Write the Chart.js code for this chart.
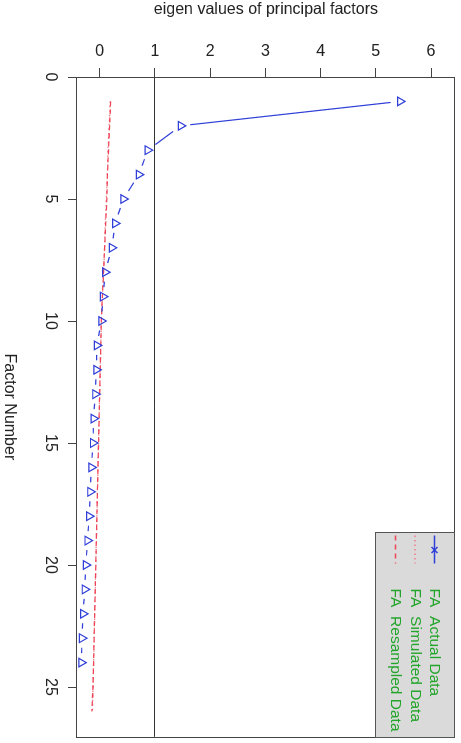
<!DOCTYPE html>
<html>
<head>
<meta charset="utf-8">
<title>Parallel analysis scree plot</title>
<script src="https://cdn.jsdelivr.net/npm/chart.js@4.4.1/dist/chart.umd.min.js"></script>
<style>
  html, body { margin: 0; padding: 0; background: #fff; overflow: hidden; }
  /* the R plot is turned a quarter turn clockwise, so the whole canvas is too */
  #wrap {
    position: absolute; left: 0; top: 0;
    width: 743px; height: 461px;
    transform-origin: 0 0;
    transform: translateX(461px) rotate(90deg);
  }
</style>
</head>
<body>
<div id="wrap"><canvas id="scree" width="743" height="461"></canvas></div>
<script>
const factorNumbers = [1, 2, 3, 4, 5, 6, 7, 8, 9, 10, 11, 12, 13, 14, 15, 16, 17, 18, 19, 20, 21, 22, 23, 24, 25, 26];
const actualEigen = [5.44, 1.47, 0.87, 0.71, 0.43, 0.28, 0.22, 0.10, 0.06, 0.03, -0.05, -0.06,
  -0.08, -0.11, -0.12, -0.15, -0.17, -0.19, -0.22, -0.25, -0.27, -0.30, -0.32, -0.33];
const simulatedEigen = [0.19, 0.17, 0.15, 0.14, 0.12, 0.10, 0.09, 0.07, 0.05, 0.03, 0.02, 0.01, 0.00,
  -0.01, -0.02, -0.03, -0.04, -0.05, -0.06, -0.07, -0.08, -0.09, -0.10, -0.11, -0.12, -0.13];
const resampledEigen = [0.20, 0.18, 0.16, 0.14, 0.13, 0.11, 0.09, 0.07, 0.05, 0.03, 0.02, 0.01, 0.00,
  -0.01, -0.02, -0.03, -0.04, -0.05, -0.06, -0.07, -0.08, -0.09, -0.10, -0.11, -0.12, -0.14];
const eigenTicks = [0, 1, 2, 3, 4, 5, 6];
const factorTicks = [0, 5, 10, 15, 20, 25];
const legendLabels = ["FA  Actual Data", "FA  Simulated Data", "FA  Resampled Data"];
const refEigen = 1;

const blue = "#2f3fd8";
const red = "#ee4658";
const pink = "#f27a88";
const green = "#22a52a";
const ink = "#222";
const pointGap = 9.5; // type = "b": line stops short of each symbol

Chart.defaults.font.family = "'Liberation Sans', Arial, sans-serif";
Chart.defaults.font.size = 16;

const pairs = (xs, ys) => ys.map((y, i) => ({ x: xs[i], y }));
const segLen = (ctx) => Math.hypot(ctx.p1.x - ctx.p0.x, ctx.p1.y - ctx.p0.y);

// box round the plot + the abline(h = 1)
const framePlugin = {
  id: "frame",
  beforeDatasetsDraw(chart) {
    const { ctx, chartArea, scales } = chart;
    const y = Math.round(scales.y.getPixelForValue(refEigen)) + 0.5;
    ctx.save();
    ctx.strokeStyle = "#333";
    ctx.lineWidth = 1;
    ctx.beginPath();
    ctx.moveTo(chartArea.left, y);
    ctx.lineTo(chartArea.right, y);
    ctx.stroke();
    ctx.restore();
  },
  afterDraw(chart) {
    const { ctx, chartArea } = chart;
    ctx.save();
    ctx.strokeStyle = "#444";
    ctx.lineWidth = 1;
    ctx.strokeRect(Math.round(chartArea.left) + 0.5, Math.round(chartArea.top) + 0.5,
      Math.round(chartArea.right - chartArea.left), Math.round(chartArea.bottom - chartArea.top));
    ctx.restore();
  }
};

// R style legend in the top right corner of the plot
const legendPlugin = {
  id: "rlegend",
  afterDraw(chart) {
    const { ctx, chartArea } = chart;
    const w = 205, h = 79;
    const x0 = Math.round(chartArea.right - w) + 0.5;
    const y0 = Math.round(chartArea.top) + 0.5;
    const rows = [20, 39.5, 59];
    const styles = [
      { color: blue, dash: [], marker: true },
      { color: pink, dash: [1.5, 3], marker: false },
      { color: red, dash: [5, 4], marker: false }
    ];
    ctx.save();
    ctx.fillStyle = "#dadada";
    ctx.fillRect(x0, y0, w, h);
    ctx.strokeStyle = "#555";
    ctx.lineWidth = 1;
    ctx.strokeRect(x0, y0, w, h);
    legendLabels.forEach((label, i) => {
      const y = y0 + rows[i];
      const s = styles[i];
      ctx.strokeStyle = s.color;
      ctx.lineWidth = 1.5;
      ctx.setLineDash(s.dash);
      ctx.beginPath();
      ctx.moveTo(x0 + 3, y);
      ctx.lineTo(x0 + 31, y);
      ctx.stroke();
      ctx.setLineDash([]);
      if (s.marker) {
        const cx = x0 + 17.5;
        ctx.beginPath();
        ctx.moveTo(cx - 3, y - 3); ctx.lineTo(cx + 3, y + 3);
        ctx.moveTo(cx - 3, y + 3); ctx.lineTo(cx + 3, y - 3);
        ctx.stroke();
      }
      ctx.fillStyle = green;
      ctx.font = "15.5px 'Liberation Sans', Arial, sans-serif";
      ctx.textBaseline = "middle";
      ctx.textAlign = "left";
      ctx.fillText(label, x0 + 56, y);
    });
    ctx.restore();
  }
};

new Chart(document.getElementById("scree"), {
  type: "line",
  data: {
    datasets: [
      {
        label: legendLabels[0],
        data: pairs(factorNumbers, actualEigen),
        borderColor: blue,
        borderWidth: 1.2,
        pointStyle: "triangle",
        pointRadius: 5,
        pointBorderWidth: 1.2,
        pointBorderColor: blue,
        pointBackgroundColor: "rgba(0,0,0,0)",
        segment: {
          borderDash: (ctx) => {
            const L = segLen(ctx);
            return L > 2 * pointGap ? [L - 2 * pointGap, 2 * pointGap] : [0, L + 1];
          },
          borderDashOffset: (ctx) => segLen(ctx) - pointGap
        },
        order: 0
      },
      {
        label: legendLabels[1],
        data: pairs(factorNumbers, simulatedEigen),
        borderColor: pink,
        borderWidth: 1.2,
        borderDash: [1.5, 3],
        pointRadius: 0,
        order: 2
      },
      {
        label: legendLabels[2],
        data: pairs(factorNumbers, resampledEigen),
        borderColor: red,
        borderWidth: 1.3,
        borderDash: [5, 3],
        pointRadius: 0,
        order: 1
      }
    ]
  },
  options: {
    responsive: false,
    animation: false,
    devicePixelRatio: 1,
    layout: { padding: { left: 0, top: 4, right: 5, bottom: 0 } },
    plugins: { legend: { display: false }, tooltip: { enabled: false } },
    scales: {
      x: {
        type: "linear",
        position: "bottom",
        min: 0,
        max: 27.04,
        afterBuildTicks: (s) => { s.ticks = factorTicks.map((v) => ({ value: v })); },
        afterFit: (s) => { s.height = 77; s.paddingLeft = 0; s.paddingRight = 0; },
        border: { display: false },
        grid: { drawOnChartArea: false, drawTicks: true, tickLength: 9, color: "#444" },
        ticks: { color: ink, padding: 8, minRotation: 0, maxRotation: 0, autoSkip: false },
        title: { display: true, text: "Factor Number", color: ink, padding: 0 }
      },
      y: {
        type: "linear",
        position: "left",
        min: -0.41,
        max: 6.43,
        afterBuildTicks: (s) => { s.ticks = eigenTicks.map((v) => ({ value: v })); },
        afterFit: (s) => { s.width = 77; s.paddingTop = 0; s.paddingBottom = 0; },
        border: { display: false },
        grid: { drawOnChartArea: false, drawTicks: true, tickLength: 9, color: "#444" },
        ticks: { color: ink, padding: 12, minRotation: 90, maxRotation: 90, crossAlign: "center" },
        title: { display: true, text: "eigen values of principal factors", color: ink, padding: 0 }
      }
    }
  },
  plugins: [framePlugin, legendPlugin]
});
</script>
</body>
</html>
